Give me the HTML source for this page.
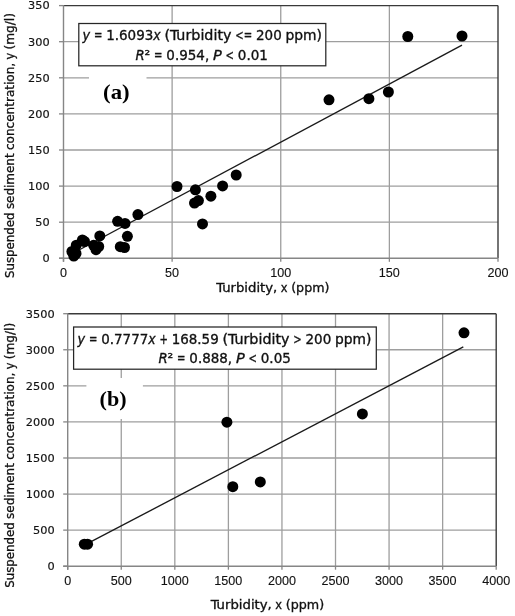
<!DOCTYPE html>
<html><head><meta charset="utf-8"><title>Turbidity vs suspended sediment</title>
<style>html,body{margin:0;padding:0;background:#fff;} svg{display:block;}</style></head>
<body>
<svg width="515" height="616" viewBox="0 0 515 616">
<rect width="515" height="616" fill="#fff"/>
<line x1="63.50" y1="222.20" x2="498.00" y2="222.20" stroke="#9e9e9e" stroke-width="1.3"/>
<line x1="63.50" y1="186.10" x2="498.00" y2="186.10" stroke="#9e9e9e" stroke-width="1.3"/>
<line x1="63.50" y1="150.00" x2="498.00" y2="150.00" stroke="#9e9e9e" stroke-width="1.3"/>
<line x1="63.50" y1="113.90" x2="498.00" y2="113.90" stroke="#9e9e9e" stroke-width="1.3"/>
<line x1="63.50" y1="77.80" x2="498.00" y2="77.80" stroke="#9e9e9e" stroke-width="1.3"/>
<line x1="63.50" y1="41.70" x2="498.00" y2="41.70" stroke="#9e9e9e" stroke-width="1.3"/>
<line x1="172.12" y1="5.60" x2="172.12" y2="258.30" stroke="#9e9e9e" stroke-width="1.3"/>
<line x1="280.75" y1="5.60" x2="280.75" y2="258.30" stroke="#9e9e9e" stroke-width="1.3"/>
<line x1="389.38" y1="5.60" x2="389.38" y2="258.30" stroke="#9e9e9e" stroke-width="1.3"/>
<line x1="63.50" y1="5.60" x2="498.00" y2="5.60" stroke="#3a3a3a" stroke-width="1.4"/>
<line x1="498.00" y1="5.60" x2="498.00" y2="258.30" stroke="#3a3a3a" stroke-width="1.4"/>
<line x1="63.50" y1="4.90" x2="63.50" y2="261.80" stroke="#868686" stroke-width="1.4"/>
<line x1="59.00" y1="258.30" x2="498.00" y2="258.30" stroke="#868686" stroke-width="1.4"/>
<line x1="59.00" y1="258.30" x2="63.50" y2="258.30" stroke="#868686" stroke-width="1.3"/>
<line x1="59.00" y1="222.20" x2="63.50" y2="222.20" stroke="#868686" stroke-width="1.3"/>
<line x1="59.00" y1="186.10" x2="63.50" y2="186.10" stroke="#868686" stroke-width="1.3"/>
<line x1="59.00" y1="150.00" x2="63.50" y2="150.00" stroke="#868686" stroke-width="1.3"/>
<line x1="59.00" y1="113.90" x2="63.50" y2="113.90" stroke="#868686" stroke-width="1.3"/>
<line x1="59.00" y1="77.80" x2="63.50" y2="77.80" stroke="#868686" stroke-width="1.3"/>
<line x1="59.00" y1="41.70" x2="63.50" y2="41.70" stroke="#868686" stroke-width="1.3"/>
<line x1="59.00" y1="5.60" x2="63.50" y2="5.60" stroke="#868686" stroke-width="1.3"/>
<line x1="63.50" y1="258.30" x2="63.50" y2="261.80" stroke="#868686" stroke-width="1.3"/>
<line x1="172.12" y1="258.30" x2="172.12" y2="261.80" stroke="#868686" stroke-width="1.3"/>
<line x1="280.75" y1="258.30" x2="280.75" y2="261.80" stroke="#868686" stroke-width="1.3"/>
<line x1="389.38" y1="258.30" x2="389.38" y2="261.80" stroke="#868686" stroke-width="1.3"/>
<line x1="498.00" y1="258.30" x2="498.00" y2="261.80" stroke="#868686" stroke-width="1.3"/>
<rect x="89" y="70" width="57.5" height="41" fill="#fff"/>
<rect x="78.8" y="23.5" width="247.0" height="42.3" fill="#fff" stroke="#262626" stroke-width="1.25"/>
<line x1="72.00" y1="253.75" x2="462.00" y2="45.18" stroke="#1a1a1a" stroke-width="1.35"/>
<circle cx="462" cy="36" r="5.5" fill="#000"/>
<circle cx="407.8" cy="36.5" r="5.5" fill="#000"/>
<circle cx="388.4" cy="92" r="5.5" fill="#000"/>
<circle cx="368.9" cy="98.7" r="5.5" fill="#000"/>
<circle cx="329" cy="99.8" r="5.5" fill="#000"/>
<circle cx="236.2" cy="175" r="5.5" fill="#000"/>
<circle cx="222.6" cy="185.9" r="5.5" fill="#000"/>
<circle cx="177" cy="186.5" r="5.5" fill="#000"/>
<circle cx="195.4" cy="189.8" r="5.5" fill="#000"/>
<circle cx="210.9" cy="196.2" r="5.5" fill="#000"/>
<circle cx="198.4" cy="200.6" r="5.5" fill="#000"/>
<circle cx="194.5" cy="203.1" r="5.5" fill="#000"/>
<circle cx="202.5" cy="223.9" r="5.5" fill="#000"/>
<circle cx="137.9" cy="214.6" r="5.5" fill="#000"/>
<circle cx="117.6" cy="221.3" r="5.5" fill="#000"/>
<circle cx="125" cy="223.4" r="5.5" fill="#000"/>
<circle cx="127.4" cy="236.3" r="5.5" fill="#000"/>
<circle cx="120.3" cy="246.7" r="5.5" fill="#000"/>
<circle cx="124.5" cy="247.5" r="5.5" fill="#000"/>
<circle cx="99.8" cy="235.9" r="5.5" fill="#000"/>
<circle cx="93.6" cy="245.3" r="5.5" fill="#000"/>
<circle cx="98.7" cy="246.5" r="5.5" fill="#000"/>
<circle cx="96" cy="249.7" r="5.5" fill="#000"/>
<circle cx="82.4" cy="240" r="5.5" fill="#000"/>
<circle cx="84.5" cy="241.5" r="5.5" fill="#000"/>
<circle cx="76.3" cy="245.2" r="5.5" fill="#000"/>
<circle cx="71.9" cy="251.5" r="5.5" fill="#000"/>
<circle cx="73.8" cy="256" r="5.5" fill="#000"/>
<circle cx="76" cy="253.5" r="5.5" fill="#000"/>
<text x="49.60" y="262.15" font-size="11.3" font-family="'DejaVu Sans', sans-serif" text-anchor="end" textLength="7.2" lengthAdjust="spacingAndGlyphs" font-stretch="condensed" fill="#111" stroke="#111" stroke-width="0.15">0</text>
<text x="49.60" y="226.05" font-size="11.3" font-family="'DejaVu Sans', sans-serif" text-anchor="end" textLength="14.4" lengthAdjust="spacingAndGlyphs" font-stretch="condensed" fill="#111" stroke="#111" stroke-width="0.15">50</text>
<text x="49.60" y="189.95" font-size="11.3" font-family="'DejaVu Sans', sans-serif" text-anchor="end" textLength="21.6" lengthAdjust="spacingAndGlyphs" font-stretch="condensed" fill="#111" stroke="#111" stroke-width="0.15">100</text>
<text x="49.60" y="153.85" font-size="11.3" font-family="'DejaVu Sans', sans-serif" text-anchor="end" textLength="21.6" lengthAdjust="spacingAndGlyphs" font-stretch="condensed" fill="#111" stroke="#111" stroke-width="0.15">150</text>
<text x="49.60" y="117.75" font-size="11.3" font-family="'DejaVu Sans', sans-serif" text-anchor="end" textLength="21.6" lengthAdjust="spacingAndGlyphs" font-stretch="condensed" fill="#111" stroke="#111" stroke-width="0.15">200</text>
<text x="49.60" y="81.65" font-size="11.3" font-family="'DejaVu Sans', sans-serif" text-anchor="end" textLength="21.6" lengthAdjust="spacingAndGlyphs" font-stretch="condensed" fill="#111" stroke="#111" stroke-width="0.15">250</text>
<text x="49.60" y="45.55" font-size="11.3" font-family="'DejaVu Sans', sans-serif" text-anchor="end" textLength="21.6" lengthAdjust="spacingAndGlyphs" font-stretch="condensed" fill="#111" stroke="#111" stroke-width="0.15">300</text>
<text x="49.60" y="9.45" font-size="11.3" font-family="'DejaVu Sans', sans-serif" text-anchor="end" textLength="21.6" lengthAdjust="spacingAndGlyphs" font-stretch="condensed" fill="#111" stroke="#111" stroke-width="0.15">350</text>
<text x="63.50" y="276.80" font-size="12" font-family="'Liberation Sans', Arial, sans-serif" text-anchor="middle" textLength="7.0" lengthAdjust="spacingAndGlyphs" fill="#111" stroke="#111" stroke-width="0.12">0</text>
<text x="172.12" y="276.80" font-size="12" font-family="'Liberation Sans', Arial, sans-serif" text-anchor="middle" textLength="14.0" lengthAdjust="spacingAndGlyphs" fill="#111" stroke="#111" stroke-width="0.12">50</text>
<text x="280.75" y="276.80" font-size="12" font-family="'Liberation Sans', Arial, sans-serif" text-anchor="middle" textLength="21.0" lengthAdjust="spacingAndGlyphs" fill="#111" stroke="#111" stroke-width="0.12">100</text>
<text x="389.38" y="276.80" font-size="12" font-family="'Liberation Sans', Arial, sans-serif" text-anchor="middle" textLength="21.0" lengthAdjust="spacingAndGlyphs" fill="#111" stroke="#111" stroke-width="0.12">150</text>
<text x="498.00" y="276.80" font-size="12" font-family="'Liberation Sans', Arial, sans-serif" text-anchor="middle" textLength="21.0" lengthAdjust="spacingAndGlyphs" fill="#111" stroke="#111" stroke-width="0.12">200</text>
<line x1="67.70" y1="530.13" x2="496.20" y2="530.13" stroke="#9e9e9e" stroke-width="1.3"/>
<line x1="67.70" y1="494.06" x2="496.20" y2="494.06" stroke="#9e9e9e" stroke-width="1.3"/>
<line x1="67.70" y1="457.99" x2="496.20" y2="457.99" stroke="#9e9e9e" stroke-width="1.3"/>
<line x1="67.70" y1="421.91" x2="496.20" y2="421.91" stroke="#9e9e9e" stroke-width="1.3"/>
<line x1="67.70" y1="385.84" x2="496.20" y2="385.84" stroke="#9e9e9e" stroke-width="1.3"/>
<line x1="67.70" y1="349.77" x2="496.20" y2="349.77" stroke="#9e9e9e" stroke-width="1.3"/>
<line x1="121.26" y1="313.70" x2="121.26" y2="566.20" stroke="#9e9e9e" stroke-width="1.3"/>
<line x1="174.82" y1="313.70" x2="174.82" y2="566.20" stroke="#9e9e9e" stroke-width="1.3"/>
<line x1="228.39" y1="313.70" x2="228.39" y2="566.20" stroke="#9e9e9e" stroke-width="1.3"/>
<line x1="281.95" y1="313.70" x2="281.95" y2="566.20" stroke="#9e9e9e" stroke-width="1.3"/>
<line x1="335.51" y1="313.70" x2="335.51" y2="566.20" stroke="#9e9e9e" stroke-width="1.3"/>
<line x1="389.07" y1="313.70" x2="389.07" y2="566.20" stroke="#9e9e9e" stroke-width="1.3"/>
<line x1="442.64" y1="313.70" x2="442.64" y2="566.20" stroke="#9e9e9e" stroke-width="1.3"/>
<line x1="67.70" y1="313.70" x2="496.20" y2="313.70" stroke="#3a3a3a" stroke-width="1.4"/>
<line x1="496.20" y1="313.70" x2="496.20" y2="566.20" stroke="#3a3a3a" stroke-width="1.4"/>
<line x1="67.70" y1="313.00" x2="67.70" y2="569.70" stroke="#868686" stroke-width="1.4"/>
<line x1="63.20" y1="566.20" x2="496.20" y2="566.20" stroke="#868686" stroke-width="1.4"/>
<line x1="63.20" y1="566.20" x2="67.70" y2="566.20" stroke="#868686" stroke-width="1.3"/>
<line x1="63.20" y1="530.13" x2="67.70" y2="530.13" stroke="#868686" stroke-width="1.3"/>
<line x1="63.20" y1="494.06" x2="67.70" y2="494.06" stroke="#868686" stroke-width="1.3"/>
<line x1="63.20" y1="457.99" x2="67.70" y2="457.99" stroke="#868686" stroke-width="1.3"/>
<line x1="63.20" y1="421.91" x2="67.70" y2="421.91" stroke="#868686" stroke-width="1.3"/>
<line x1="63.20" y1="385.84" x2="67.70" y2="385.84" stroke="#868686" stroke-width="1.3"/>
<line x1="63.20" y1="349.77" x2="67.70" y2="349.77" stroke="#868686" stroke-width="1.3"/>
<line x1="63.20" y1="313.70" x2="67.70" y2="313.70" stroke="#868686" stroke-width="1.3"/>
<line x1="67.70" y1="566.20" x2="67.70" y2="569.70" stroke="#868686" stroke-width="1.3"/>
<line x1="121.26" y1="566.20" x2="121.26" y2="569.70" stroke="#868686" stroke-width="1.3"/>
<line x1="174.82" y1="566.20" x2="174.82" y2="569.70" stroke="#868686" stroke-width="1.3"/>
<line x1="228.39" y1="566.20" x2="228.39" y2="569.70" stroke="#868686" stroke-width="1.3"/>
<line x1="281.95" y1="566.20" x2="281.95" y2="569.70" stroke="#868686" stroke-width="1.3"/>
<line x1="335.51" y1="566.20" x2="335.51" y2="569.70" stroke="#868686" stroke-width="1.3"/>
<line x1="389.07" y1="566.20" x2="389.07" y2="569.70" stroke="#868686" stroke-width="1.3"/>
<line x1="442.64" y1="566.20" x2="442.64" y2="569.70" stroke="#868686" stroke-width="1.3"/>
<line x1="496.20" y1="566.20" x2="496.20" y2="569.70" stroke="#868686" stroke-width="1.3"/>
<rect x="86.4" y="378" width="56.5" height="41" fill="#fff"/>
<rect x="73.6" y="327" width="302.7" height="42.2" fill="#fff" stroke="#262626" stroke-width="1.25"/>
<line x1="83.90" y1="545.40" x2="463.30" y2="346.90" stroke="#1a1a1a" stroke-width="1.35"/>
<circle cx="464" cy="332.8" r="5.5" fill="#000"/>
<circle cx="226.9" cy="422.2" r="5.5" fill="#000"/>
<circle cx="362.4" cy="413.9" r="5.5" fill="#000"/>
<circle cx="232.8" cy="486.7" r="5.5" fill="#000"/>
<circle cx="260.3" cy="481.9" r="5.5" fill="#000"/>
<circle cx="84.3" cy="544.2" r="5.5" fill="#000"/>
<circle cx="87.6" cy="544.2" r="5.5" fill="#000"/>
<text x="54.60" y="570.05" font-size="11.3" font-family="'DejaVu Sans', sans-serif" text-anchor="end" textLength="7.2" lengthAdjust="spacingAndGlyphs" font-stretch="condensed" fill="#111" stroke="#111" stroke-width="0.15">0</text>
<text x="54.60" y="533.98" font-size="11.3" font-family="'DejaVu Sans', sans-serif" text-anchor="end" textLength="21.6" lengthAdjust="spacingAndGlyphs" font-stretch="condensed" fill="#111" stroke="#111" stroke-width="0.15">500</text>
<text x="54.60" y="497.91" font-size="11.3" font-family="'DejaVu Sans', sans-serif" text-anchor="end" textLength="28.8" lengthAdjust="spacingAndGlyphs" font-stretch="condensed" fill="#111" stroke="#111" stroke-width="0.15">1000</text>
<text x="54.60" y="461.84" font-size="11.3" font-family="'DejaVu Sans', sans-serif" text-anchor="end" textLength="28.8" lengthAdjust="spacingAndGlyphs" font-stretch="condensed" fill="#111" stroke="#111" stroke-width="0.15">1500</text>
<text x="54.60" y="425.76" font-size="11.3" font-family="'DejaVu Sans', sans-serif" text-anchor="end" textLength="28.8" lengthAdjust="spacingAndGlyphs" font-stretch="condensed" fill="#111" stroke="#111" stroke-width="0.15">2000</text>
<text x="54.60" y="389.69" font-size="11.3" font-family="'DejaVu Sans', sans-serif" text-anchor="end" textLength="28.8" lengthAdjust="spacingAndGlyphs" font-stretch="condensed" fill="#111" stroke="#111" stroke-width="0.15">2500</text>
<text x="54.60" y="353.62" font-size="11.3" font-family="'DejaVu Sans', sans-serif" text-anchor="end" textLength="28.8" lengthAdjust="spacingAndGlyphs" font-stretch="condensed" fill="#111" stroke="#111" stroke-width="0.15">3000</text>
<text x="54.60" y="317.55" font-size="11.3" font-family="'DejaVu Sans', sans-serif" text-anchor="end" textLength="28.8" lengthAdjust="spacingAndGlyphs" font-stretch="condensed" fill="#111" stroke="#111" stroke-width="0.15">3500</text>
<text x="67.70" y="585.00" font-size="12" font-family="'Liberation Sans', Arial, sans-serif" text-anchor="middle" textLength="7.0" lengthAdjust="spacingAndGlyphs" fill="#111" stroke="#111" stroke-width="0.12">0</text>
<text x="121.26" y="585.00" font-size="12" font-family="'Liberation Sans', Arial, sans-serif" text-anchor="middle" textLength="21.0" lengthAdjust="spacingAndGlyphs" fill="#111" stroke="#111" stroke-width="0.12">500</text>
<text x="174.82" y="585.00" font-size="12" font-family="'Liberation Sans', Arial, sans-serif" text-anchor="middle" textLength="28.0" lengthAdjust="spacingAndGlyphs" fill="#111" stroke="#111" stroke-width="0.12">1000</text>
<text x="228.39" y="585.00" font-size="12" font-family="'Liberation Sans', Arial, sans-serif" text-anchor="middle" textLength="28.0" lengthAdjust="spacingAndGlyphs" fill="#111" stroke="#111" stroke-width="0.12">1500</text>
<text x="281.95" y="585.00" font-size="12" font-family="'Liberation Sans', Arial, sans-serif" text-anchor="middle" textLength="28.0" lengthAdjust="spacingAndGlyphs" fill="#111" stroke="#111" stroke-width="0.12">2000</text>
<text x="335.51" y="585.00" font-size="12" font-family="'Liberation Sans', Arial, sans-serif" text-anchor="middle" textLength="28.0" lengthAdjust="spacingAndGlyphs" fill="#111" stroke="#111" stroke-width="0.12">2500</text>
<text x="389.07" y="585.00" font-size="12" font-family="'Liberation Sans', Arial, sans-serif" text-anchor="middle" textLength="28.0" lengthAdjust="spacingAndGlyphs" fill="#111" stroke="#111" stroke-width="0.12">3000</text>
<text x="442.64" y="585.00" font-size="12" font-family="'Liberation Sans', Arial, sans-serif" text-anchor="middle" textLength="28.0" lengthAdjust="spacingAndGlyphs" fill="#111" stroke="#111" stroke-width="0.12">3500</text>
<text x="496.20" y="585.00" font-size="12" font-family="'Liberation Sans', Arial, sans-serif" text-anchor="middle" textLength="28.0" lengthAdjust="spacingAndGlyphs" fill="#111" stroke="#111" stroke-width="0.12">4000</text>
<text y="40.30" font-size="14.3" font-family="'DejaVu Sans', sans-serif" font-stretch="condensed" fill="#111" stroke="#111" stroke-width="0.33"><tspan x="82.50" textLength="7.57" lengthAdjust="spacingAndGlyphs" font-style="italic">y</tspan> <tspan x="93.89" textLength="8.43" lengthAdjust="spacingAndGlyphs">=</tspan> <tspan x="106.15" textLength="47.16" lengthAdjust="spacingAndGlyphs">1.6093</tspan><tspan x="153.30" textLength="7.33" lengthAdjust="spacingAndGlyphs" font-style="italic">x</tspan> <tspan x="164.46" textLength="67.05" lengthAdjust="spacingAndGlyphs">(Turbidity</tspan> <tspan x="235.33" textLength="16.86" lengthAdjust="spacingAndGlyphs">&lt;=</tspan> <tspan x="256.01" textLength="25.73" lengthAdjust="spacingAndGlyphs">200</tspan> <tspan x="285.57" textLength="36.43" lengthAdjust="spacingAndGlyphs">ppm)</tspan></text>
<text y="59.60" font-size="14.3" font-family="'DejaVu Sans', sans-serif" font-stretch="condensed" fill="#111" stroke="#111" stroke-width="0.33"><tspan x="135.40" textLength="9.19" lengthAdjust="spacingAndGlyphs" font-style="italic">R</tspan><tspan x="144.59" textLength="5.69" lengthAdjust="spacingAndGlyphs">²</tspan> <tspan x="154.11" textLength="8.43" lengthAdjust="spacingAndGlyphs">=</tspan> <tspan x="166.38" textLength="42.83" lengthAdjust="spacingAndGlyphs">0.954,</tspan> <tspan x="213.04" textLength="8.75" lengthAdjust="spacingAndGlyphs" font-style="italic">P</tspan> <tspan x="225.61" textLength="8.43" lengthAdjust="spacingAndGlyphs">&lt;</tspan> <tspan x="237.88" textLength="30.02" lengthAdjust="spacingAndGlyphs">0.01</tspan></text>
<text y="343.90" font-size="14.3" font-family="'DejaVu Sans', sans-serif" font-stretch="condensed" fill="#111" stroke="#111" stroke-width="0.33"><tspan x="77.60" textLength="7.56" lengthAdjust="spacingAndGlyphs" font-style="italic">y</tspan> <tspan x="88.97" textLength="8.41" lengthAdjust="spacingAndGlyphs">=</tspan> <tspan x="101.21" textLength="47.07" lengthAdjust="spacingAndGlyphs">0.7777</tspan><tspan x="148.28" textLength="7.32" lengthAdjust="spacingAndGlyphs" font-style="italic">x</tspan> <tspan x="159.42" textLength="8.41" lengthAdjust="spacingAndGlyphs">+</tspan> <tspan x="171.65" textLength="47.07" lengthAdjust="spacingAndGlyphs">168.59</tspan> <tspan x="222.55" textLength="66.93" lengthAdjust="spacingAndGlyphs">(Turbidity</tspan> <tspan x="293.29" textLength="8.41" lengthAdjust="spacingAndGlyphs">&gt;</tspan> <tspan x="305.53" textLength="25.69" lengthAdjust="spacingAndGlyphs">200</tspan> <tspan x="335.03" textLength="36.37" lengthAdjust="spacingAndGlyphs">ppm)</tspan></text>
<text y="363.10" font-size="14.3" font-family="'DejaVu Sans', sans-serif" font-stretch="condensed" fill="#111" stroke="#111" stroke-width="0.33"><tspan x="158.40" textLength="9.19" lengthAdjust="spacingAndGlyphs" font-style="italic">R</tspan><tspan x="167.59" textLength="5.68" lengthAdjust="spacingAndGlyphs">²</tspan> <tspan x="177.10" textLength="8.43" lengthAdjust="spacingAndGlyphs">=</tspan> <tspan x="189.35" textLength="42.80" lengthAdjust="spacingAndGlyphs">0.888,</tspan> <tspan x="235.98" textLength="8.74" lengthAdjust="spacingAndGlyphs" font-style="italic">P</tspan> <tspan x="248.55" textLength="8.43" lengthAdjust="spacingAndGlyphs">&lt;</tspan> <tspan x="260.80" textLength="30.00" lengthAdjust="spacingAndGlyphs">0.05</tspan></text>
<text x="103.10" y="99.30" font-size="21.5" font-family="'Liberation Serif', 'Times New Roman', serif" text-anchor="start" textLength="26.6" lengthAdjust="spacingAndGlyphs" font-weight="bold" fill="#000">(a)</text>
<text x="99.60" y="406.20" font-size="21.8" font-family="'Liberation Serif', 'Times New Roman', serif" text-anchor="start" textLength="27.0" lengthAdjust="spacingAndGlyphs" font-weight="bold" fill="#000">(b)</text>
<text y="292.40" font-size="12.5" font-family="'DejaVu Sans', sans-serif" font-stretch="condensed" fill="#111" stroke="#111" stroke-width="0.3"><tspan x="216.30" textLength="61.03" lengthAdjust="spacingAndGlyphs">Turbidity,</tspan> <tspan x="280.86" textLength="6.76" lengthAdjust="spacingAndGlyphs">x</tspan> <tspan x="291.15" textLength="38.35" lengthAdjust="spacingAndGlyphs">(ppm)</tspan></text>
<text y="609.40" font-size="12.5" font-family="'DejaVu Sans', sans-serif" font-stretch="condensed" fill="#111" stroke="#111" stroke-width="0.3"><tspan x="210.70" textLength="61.13" lengthAdjust="spacingAndGlyphs">Turbidity,</tspan> <tspan x="275.37" textLength="6.77" lengthAdjust="spacingAndGlyphs">x</tspan> <tspan x="285.68" textLength="38.42" lengthAdjust="spacingAndGlyphs">(ppm)</tspan></text>
<text y="0.00" font-size="13" font-family="'DejaVu Sans', sans-serif" transform="translate(13.5,278.0) rotate(-90)" font-stretch="condensed" fill="#111" stroke="#111" stroke-width="0.3"><tspan x="0.00" textLength="65.58" lengthAdjust="spacingAndGlyphs">Suspended</tspan> <tspan x="68.90" textLength="55.73" lengthAdjust="spacingAndGlyphs">sediment</tspan> <tspan x="127.94" textLength="87.26" lengthAdjust="spacingAndGlyphs">concentration,</tspan> <tspan x="218.51" textLength="6.64" lengthAdjust="spacingAndGlyphs">y</tspan> <tspan x="228.46" textLength="36.54" lengthAdjust="spacingAndGlyphs">(mg/l)</tspan></text>
<text y="0.00" font-size="13" font-family="'DejaVu Sans', sans-serif" transform="translate(13.6,587.8) rotate(-90)" font-stretch="condensed" fill="#111" stroke="#111" stroke-width="0.3"><tspan x="0.00" textLength="65.58" lengthAdjust="spacingAndGlyphs">Suspended</tspan> <tspan x="68.90" textLength="55.73" lengthAdjust="spacingAndGlyphs">sediment</tspan> <tspan x="127.94" textLength="87.26" lengthAdjust="spacingAndGlyphs">concentration,</tspan> <tspan x="218.51" textLength="6.64" lengthAdjust="spacingAndGlyphs">y</tspan> <tspan x="228.46" textLength="36.54" lengthAdjust="spacingAndGlyphs">(mg/l)</tspan></text>
</svg>
</body></html>
